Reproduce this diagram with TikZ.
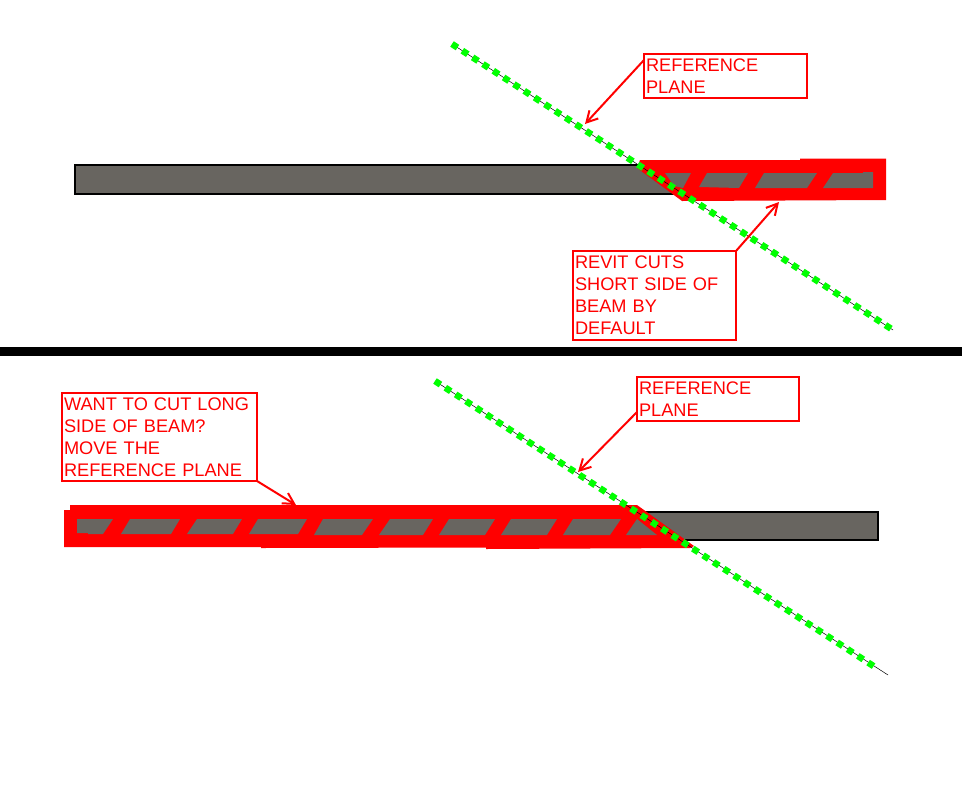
\documentclass[tikz,border=0pt]{standalone}
\usepackage{fontspec}
\setmainfont{Liberation Sans}
\usetikzlibrary{arrows.meta,calc}
\definecolor{beamgray}{RGB}{104,101,96}
\definecolor{planegreen}{RGB}{0,255,0}
\tikzset{
  x=1pt,y=-1pt,
  note/.style={draw=red,line width=2pt,anchor=north west,text=red,inner xsep=2pt,inner ysep=0pt,outer sep=0pt,
    font=\fontsize{18.2pt}{22pt}\selectfont,align=left},
  pointer/.style={draw=red,line width=2pt,-{Straight Barb[length=11pt,width=12pt,line width=2pt]}},
  beam/.style={fill=beamgray},
  edge line/.style={draw=black,line width=1.1pt},
  cutmark/.style={fill=red},
  window/.style={fill=beamgray},
  planethin/.style={draw=black,line width=0.5pt},
  planedots/.style={draw=planegreen,line width=6.5pt,dash pattern=on 6.5pt off 5.8pt},
}
\begin{document}
\begin{tikzpicture}
\useasboundingbox (0,0) rectangle (966,801);
\fill[white] (0,0) rectangle (966,801);
% upper beam
\fill[beam] (75,165) rectangle (690,194);
\draw[edge line] (690,165) -- (75,165) -- (75,194) -- (690,194);
\fill[cutmark] (640,160) -- (800,160) -- (800,158.5) -- (886,158.5) -- (886,200) -- (682,201) -- (637,168) -- cycle;
\fill[window] (665,173) -- (691,173) -- (683,188) -- (674,186) -- cycle;
\fill[window] (707,173) -- (748,173) -- (739,188) -- (699,187) -- cycle;
\fill[window] (764,173) -- (817,173) -- (807,188) -- (755,188) -- cycle;
\fill[window] (833,173) -- (863,173) -- (863,172) -- (873,172) -- (873,188) -- (823,188) -- cycle;
% lower beam
\fill[beam] (640,512) rectangle (878,540);
\draw[edge line] (640,512) -- (878,512) -- (878,540) -- (685,540);
\fill[cutmark] (70,505) -- (637,505) -- (694,546) -- (690,548) -- (486,549) -- (486,547.5) -- (261,548) -- (261,547) -- (64,547) -- (64,510) -- (70,510) -- cycle;
\fill[window] (77,519) -- (113,519) -- (103,534) -- (88,534) -- (88,533) -- (77,533) -- cycle;
\fill[window] (130,519) -- (180,519) -- (171,534) -- (121,534) -- cycle;
\fill[window] (197,519) -- (242,519) -- (233,534) -- (187,534) -- cycle;
\fill[window] (258,519) -- (307,519) -- (298,534) -- (249,534) -- cycle;
\fill[window] (323,519) -- (373,519) -- (362,535) -- (314,535) -- cycle;
\fill[window] (390,519) -- (433,519) -- (423,535) -- (379,535) -- cycle;
\fill[window] (449,519) -- (495,519) -- (485,535) -- (439,535) -- cycle;
\fill[window] (511,519) -- (557,519) -- (547,535) -- (501,535) -- cycle;
\fill[window] (573,519) -- (621,519) -- (610,535) -- (563,535) -- cycle;
\fill[window] (637,519) -- (657,535) -- (626,535) -- cycle;
% reference planes
\coordinate (p1a) at (452,44);
\coordinate (p1b) at (893,330);
\coordinate (p2a) at (435,381);
\coordinate (p2b) at (888,675);
\coordinate (p2c) at (878,669);
\draw[planethin] (p1a) -- (p1b);
\draw[planedots] (p1a) -- (p1b);
\draw[planethin] (p2a) -- (p2b);
\draw[planedots] (p2a) -- (p2c);
% divider
\fill[black] (0,347) rectangle (962,356);
% notes
\node[note,minimum width=163pt,minimum height=44pt,text width=159pt] (n1) at (644,54) {REFERENCE\\PLANE};
\node[note,minimum width=163pt,minimum height=89pt,text width=159pt] (n2) at (573,251) {REVIT CUTS\\SHORT SIDE OF\\BEAM BY\\DEFAULT};
\node[note,minimum width=162pt,minimum height=44pt,text width=158pt] (n3) at (637,377) {REFERENCE\\PLANE};
\node[note,minimum width=195pt,minimum height=88pt,text width=191pt] (n4) at (62,393) {WANT TO CUT LONG\\SIDE OF BEAM?\\MOVE THE\\REFERENCE PLANE};
% pointers
\coordinate (t1) at (585,124);
\coordinate (t2) at (779,202);
\coordinate (t3) at (578,472);
\coordinate (t4) at (296,505);
\draw[pointer] ([yshift=-6pt]n1.north west) -- (t1);
\draw[pointer] (n2.north east) -- (t2);
\draw[pointer] ([yshift=9pt]n3.south west) -- (t3);
\draw[pointer] (n4.south east) -- (t4);
\end{tikzpicture}
\end{document}
